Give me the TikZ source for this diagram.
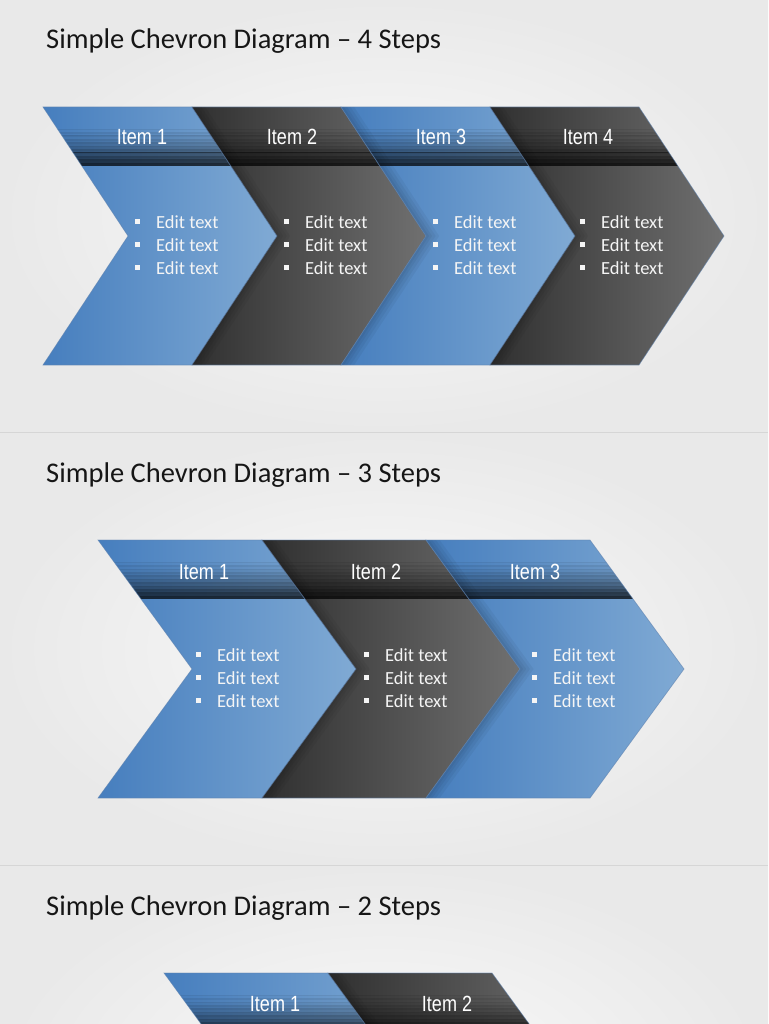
\documentclass[tikz,border=0pt]{standalone}
\usepackage{fontspec}
\setmainfont{Carlito}
\newfontfamily\itemfont[FakeStretch=0.82]{Liberation Sans}

\definecolor{chblueL}{RGB}{70,126,190}
\definecolor{chblueR}{RGB}{128,170,212}
\definecolor{chdarkL}{RGB}{48,48,48}
\definecolor{chdarkR}{RGB}{112,112,112}
\definecolor{chedge}{RGB}{95,130,175}
\definecolor{bgin}{RGB}{250,250,250}
\definecolor{bgout}{RGB}{233,233,233}
\definecolor{titlegray}{RGB}{22,22,22}

\tikzstyle{bluechev} = [left color=chblueL, right color=chblueR]
\tikzstyle{darkchev} = [left color=chdarkL, right color=chdarkR]
\tikzstyle{slide} = [inner color=bgin, outer color=bgout]
\tikzstyle{sepline} = [draw=black!16, line width=1.6pt]
\tikzstyle{title} = [anchor=base west, inner sep=0, text=titlegray, font=\fontsize{28.5}{34}\selectfont]
\tikzstyle{item} = [inner sep=0, text=white, font=\itemfont\fontsize{22}{26}\selectfont]
\tikzstyle{list} = [anchor=west, inner sep=0, align=left, text=white!96!black, font=\fontsize{18.5}{22.8}\selectfont]

\newcommand{\blt}{\makebox[21pt][l]{\rule[4.4pt]{5pt}{5pt}}}
\newcommand{\edits}{\blt Edit text\\\blt Edit text\\\blt Edit text}

% #1 fill style, #2 top left x, #3 top y, #4 shadow opacity
\newcommand{\chev}[4]{%
  \path[#1] (#2,#3) -- ++(\chw,0) -- ++(\chd,\chh/2) -- ++(-\chd,\chh/2)
    -- ++(-\chw,0) -- ++(\chd,-\chh/2) -- cycle;
  \begin{scope}
    \clip (#2,#3) -- ++(\chw,0) -- ++(\chd,\chh/2) -- ++(-\chd,\chh/2)
      -- ++(-\chw,0) -- ++(\chd,-\chh/2) -- cycle;
    \foreach \lw in {22,16,10,5}
      \draw[black, opacity=#4, line width=\lw pt] (#2,#3) -- ++(\chd,\chh/2) -- ++(-\chd,\chh/2);
    \foreach \k in {0,...,22} {
      \pgfmathsetmacro\op{0.72*(\k/22)^1.6+0.07*mod(\k,2)}
      \fill[black, opacity=\op] (#2-10,#3+20+1.7*\k) rectangle ++(\chw+\chd+20,1.75);
    }
  \end{scope}
  \draw[chedge, line width=0.7pt, opacity=0.6] (#2,#3) -- ++(\chw,0) -- ++(\chd,\chh/2)
    -- ++(-\chd,\chh/2) -- ++(-\chw,0) -- ++(\chd,-\chh/2) -- cycle;
}

\begin{document}
\begin{tikzpicture}[x=1pt, y=-1pt]

\clip (0,0) rectangle (768,1024);

% slides
\shade[slide] (0,0) rectangle (768,432);
\shade[slide] (0,433) rectangle (768,865);
\shade[slide] (0,866) rectangle (768,1298);
\draw[sepline] (0,432.5) -- (768,432.5);
\draw[sepline] (0,865.5) -- (768,865.5);

% 4 steps
\node (title1) [title] at (46,49) {Simple Chevron Diagram – 4 Steps};

\def\chw{149}\def\chd{85}\def\chh{258}
\chev{bluechev}{43}{107}{0}
\chev{darkchev}{192}{107}{0.045}
\chev{bluechev}{341}{107}{0.045}
\chev{darkchev}{490}{107}{0.045}

\node (item1) [item] at (142,137) {Item 1};
\node (item2) [item] at (292,137) {Item 2};
\node (item3) [item] at (441,137) {Item 3};
\node (item4) [item] at (588,137) {Item 4};

\node (list1) [list] at (135,245) {\edits};
\node (list2) [list] at (284,245) {\edits};
\node (list3) [list] at (433,245) {\edits};
\node (list4) [list] at (580,245) {\edits};

% 3 steps
\node (title2) [title] at (46,482) {Simple Chevron Diagram – 3 Steps};

\def\chw{164}\def\chd{94}\def\chh{258}
\chev{bluechev}{98}{540}{0}
\chev{darkchev}{262}{540}{0.045}
\chev{bluechev}{426}{540}{0.045}

\node (item5) [item] at (204,572) {Item 1};
\node (item6) [item] at (376,572) {Item 2};
\node (item7) [item] at (535,572) {Item 3};

\node (list5) [list] at (196,678) {\edits};
\node (list6) [list] at (364,678) {\edits};
\node (list7) [list] at (532,678) {\edits};

% 2 steps
\node (title3) [title] at (46,915) {Simple Chevron Diagram – 2 Steps};

\chev{bluechev}{164}{973}{0}
\chev{darkchev}{328}{973}{0.045}

\node (item8) [item] at (275,1004) {Item 1};
\node (item9) [item] at (447,1004) {Item 2};

\end{tikzpicture}
\end{document}
